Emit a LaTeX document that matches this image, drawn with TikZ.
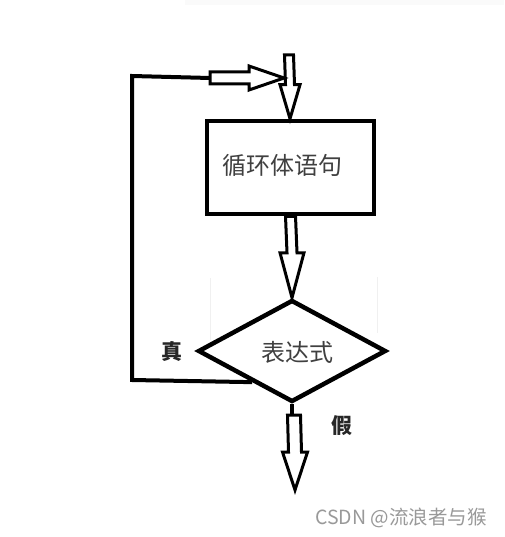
\documentclass[tikz,border=0pt]{standalone}
\usepackage{fontspec}
\newfontfamily\cjk{Noto Sans CJK SC}
\usetikzlibrary{shapes.geometric,calc}
\tikzset{
  thickline/.style={line width=4.5pt, line join=miter},
  hollowline/.style={line width=3pt, line join=miter, fill=white},
  boxstyle/.style={draw, thickline, rectangle, minimum width=167pt, minimum height=93pt, inner sep=0pt},
  diastyle/.style={draw, thickline, diamond, minimum width=188pt, minimum height=102pt, inner sep=0pt},
  maintext/.style={font=\cjk\fontsize{24}{24}\selectfont, text=black!75, inner sep=0pt},
  labeltext/.style={font=\cjk\bfseries\fontsize{21}{21}\selectfont, text=black!85, inner sep=0pt},
  marktext/.style={font=\cjk\fontsize{19.5}{19.5}\selectfont, text=black!40, inner sep=0pt},
  faint/.style={draw=black!6, line width=0.8pt}
}
% vertical hollow arrow: #1 top, #2 tip, #3 shaft half width, #4 head half width, #5 head length
\newcommand\hollowdown[5]{%
  \draw[hollowline] ($(#1)+(-#3,0)$) -- ($(#2)+(-#3,-#5)$) -- ($(#2)+(-#4,-#5)$) -- (#2)
    -- ($(#2)+(#4,-#5)$) -- ($(#2)+(#3,-#5)$) -- ($(#1)+(#3,0)$) -- cycle;}
% horizontal hollow arrow pointing right
\newcommand\hollowright[5]{%
  \draw[hollowline] ($(#1)+(0,-#3)$) -- ($(#2)+(-#5,-#3)$) -- ($(#2)+(-#5,-#4)$) -- (#2)
    -- ($(#2)+(-#5,#4)$) -- ($(#2)+(-#5,#3)$) -- ($(#1)+(0,#3)$) -- cycle;}
\begin{document}
\begin{tikzpicture}[x=1pt,y=-1pt]
\useasboundingbox (0,0) rectangle (504,537);
\fill[white] (0,0) rectangle (504,537);
\fill[black!2] (185,0) rectangle (504,5);
\draw[faint] (210,278) -- (210,340);
\draw[faint] (377,277) -- (377,333);

% nodes
\node[boxstyle] (body) at (290.5,167.5) {};
\node[maintext] (bodytext) at (282,165) {循环体语句};
\node[diastyle] (dia) at (292,351) {};
\node[maintext] (diatext) at (297,352) {表达式};
\node[labeltext] (truelbl) at (172,352) {真};
\node[labeltext] (falselbl) at (342,426) {假};
\node[marktext, anchor=west] (mark) at (315,518) {CSDN @流浪者与猴};

% coordinates
\coordinate (inlet) at (289,55);
\coordinate (intip) at ($(body.north)+(-0.5,0)$);
\coordinate (looptail) at (210,78);
\coordinate (loophead) at (284,78);
\coordinate (trueexit) at ($(dia.west)!0.585!(dia.south)$);
\coordinate (loopbl) at (132,380);
\coordinate (looptl) at (132,76);
\coordinate (outtop) at (294,415);
\coordinate (outtip) at (295,490);

% loop back line
\draw[line width=4pt, line join=miter] (trueexit) -- (loopbl) -- (looptl) -- (looptail);

% arrows
\hollowdown{inlet}{intip}{4.5}{10}{34}
\hollowright{looptail}{loophead}{6}{12}{35}
\hollowdown{body.south}{dia.north}{5}{12}{45}
\draw[line width=3.5pt] (dia.south) -- ($(dia.south)+(0,14)$);
\hollowdown{outtop}{outtip}{6.5}{12.5}{38}
\end{tikzpicture}
\end{document}
